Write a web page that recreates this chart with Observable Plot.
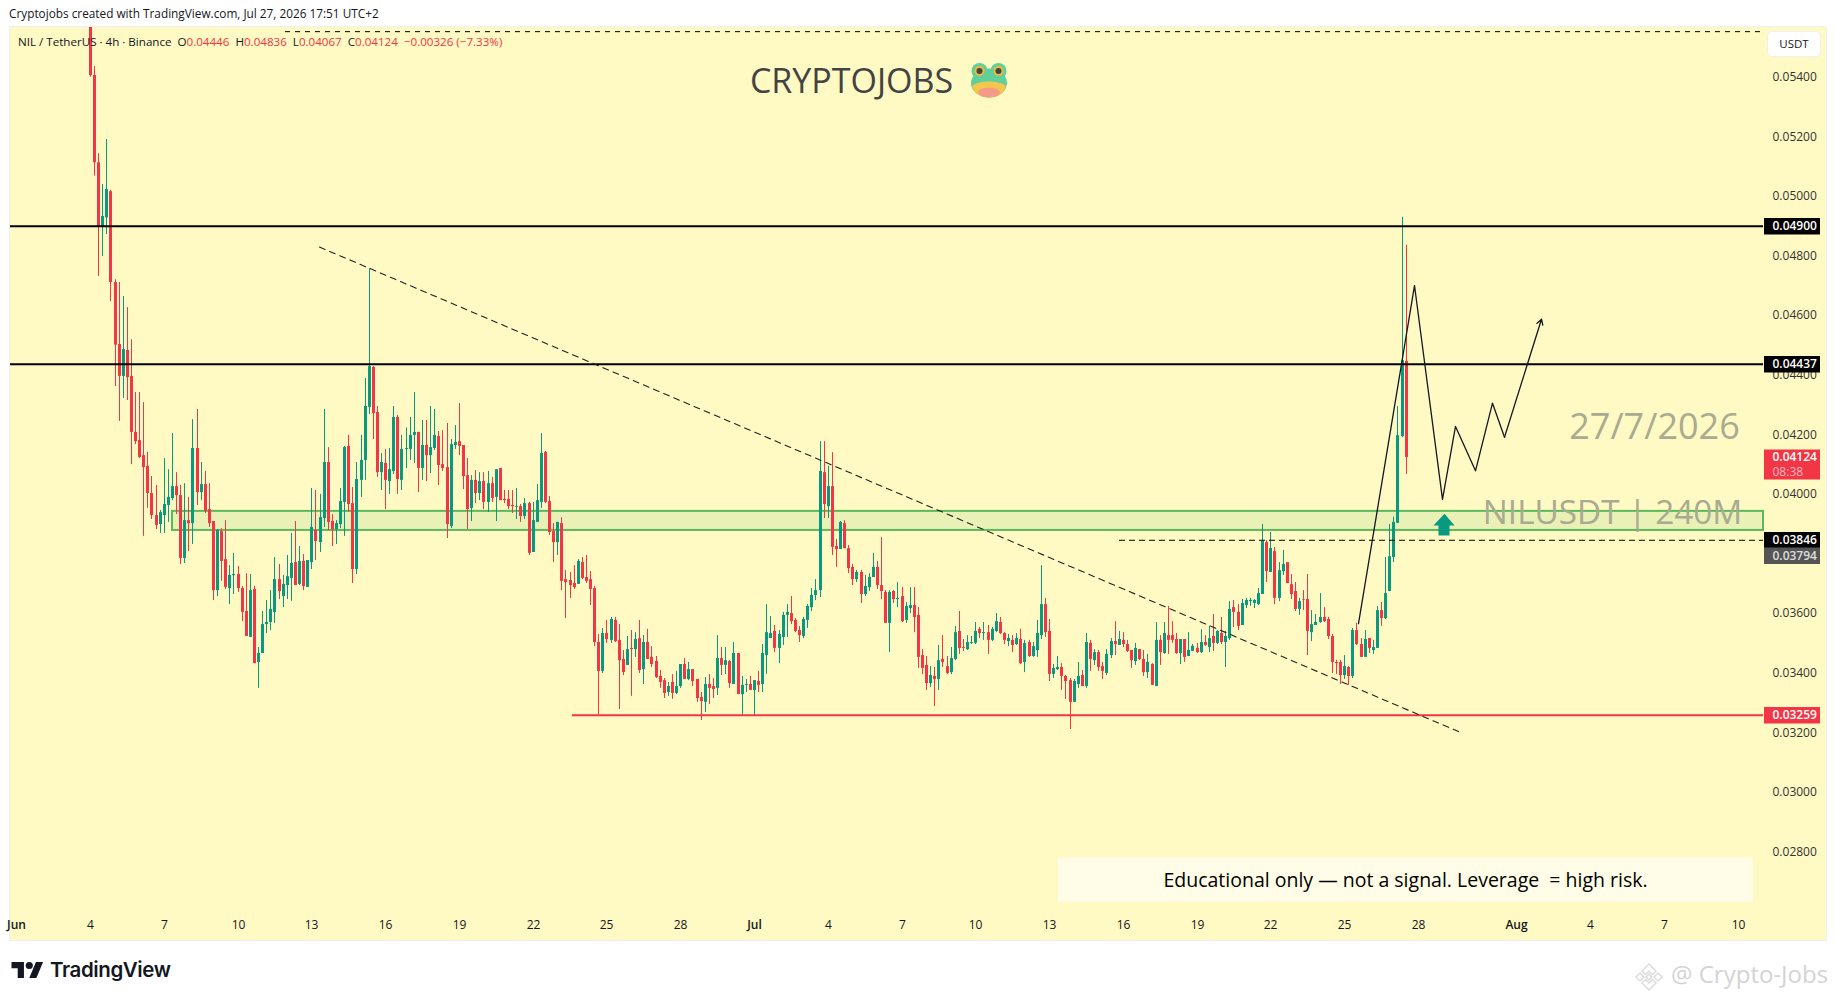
<!DOCTYPE html>
<html>
<head>
<meta charset="utf-8">
<script src="https://cdn.jsdelivr.net/npm/d3@7"></script>
<script src="https://cdn.jsdelivr.net/npm/@observablehq/plot@0.6"></script>
<style>
html,body{margin:0;padding:0;background:#fff;width:1835px;height:1000px;overflow:hidden}
body{position:relative;font-family:"Open Sans",sans-serif;color:#131722}
#pane{position:absolute;left:10px;top:27px;width:1816px;height:913px;background:#fff9c4;box-shadow:0 0 0 1px #eef0f3}
#chart{position:absolute;left:0;top:0}
.t{position:absolute;white-space:pre;line-height:1}
#usdt{position:absolute;left:1767px;top:31px;width:54px;height:26px;background:#fff;border:1px solid #eef0f3;border-radius:5px;box-sizing:border-box;font-size:11.5px;line-height:24px;text-align:center}
.r{color:#f23645}
</style>
</head>
<body>
<div id="pane"></div>
<div id="chart"></div>
<div class="t" style="left:9px;top:8px;font-size:11.8px">Cryptojobs created with TradingView.com, Jul 27, 2026 17:51 UTC+2</div>
<div class="t" style="left:18px;top:36px;font-size:11.6px">NIL / TetherUS · 4h · Binance  O<span class="r">0.04446</span>  H<span class="r">0.04836</span>  L<span class="r">0.04067</span>  C<span class="r">0.04124</span>  <span class="r">−0.00326 (−7.33%)</span></div>
<div id="usdt">USDT</div>
<svg style="position:absolute;left:970px;top:62px" width="38" height="36" viewBox="0 0 38 36">
<ellipse cx="19" cy="21" rx="18" ry="14.5" fill="#5fd09a"/>
<circle cx="9.5" cy="9" r="8" fill="#5fd09a"/><circle cx="28.5" cy="9" r="8" fill="#5fd09a"/>
<circle cx="9.5" cy="9" r="5" fill="#f0b93c"/><circle cx="28.5" cy="9" r="5" fill="#f0b93c"/>
<circle cx="9.5" cy="9" r="3" fill="#444"/><circle cx="28.5" cy="9" r="3" fill="#444"/>
<path d="M2 24C8 18 30 18 36 24C34 32 27 35.500 19 35.500C11 35.500 4 32 2 24Z" fill="#f4c64e"/>
<ellipse cx="19" cy="30.500" rx="11" ry="4.800" fill="#f59a86"/>
</svg>
<svg style="position:absolute;left:11px;top:962px" width="33" height="16" viewBox="0 4 36 18">
<path d="M14 22H7V11H0V4h14v18zM28 22h-8l7.500-18h8L28 22z" fill="#131722"/><circle cx="20" cy="8" r="4" fill="#131722"/>
</svg>
<div class="t" style="left:50px;top:957px;font:600 20.500px Inter,sans-serif;letter-spacing:-.4px">TradingView</div>
<svg style="position:absolute;left:1634px;top:963px" width="30" height="28" viewBox="0 0 30 28" fill="none" stroke="#dcdcdc" stroke-width="1.500">
<path d="M15 1L22 8L18.500 11.500L15 8L11.500 11.500L8 8Z"/><path d="M15 27L22 20L18.500 16.500L15 20L11.500 16.500L8 20Z"/><path d="M2 14L6 10L10 14L6 18Z"/><path d="M28 14L24 10L20 14L24 18Z"/><path d="M15 11L18 14L15 17L12 14Z"/>
</svg>
<div class="t" style="left:1671px;top:962px;font-size:24px;color:#d4d4d4">@ Crypto-Jobs</div>
<script>
// Prices in 1e-5 USDT, one entry per 4h bar starting Jun 4 2026
const opens = [
5900,5406,5113,4897,4928,5016,4711,4503,4396,4483,
4396,4208,4181,4130,4094,4003,3929,3899,3929,3963,
3986,4026,3996,3785,3912,3902,4154,4006,4033,3949,
3909,3677,3875,3781,3684,3727,3731,3684,3607,3520,
3681,3436,3466,3563,3570,3604,3714,3657,3694,3718,
3771,3698,3775,3688,3771,3879,3838,3919,4107,3909,
3882,3899,3973,4161,3969,3748,4047,4114,4292,4426,
4275,4073,4104,4043,4077,4258,4047,4151,4151,4198,
4208,4087,4164,4130,4154,4194,4100,4090,3892,4164,
4177,4164,4063,3953,4047,4003,4043,3973,4036,3990,
4087,3983,3983,3963,3956,3959,3926,3969,3805,3906,
3973,4141,3976,3875,3838,3902,3714,3711,3701,3698,
3771,3721,3714,3684,3503,3406,3533,3510,3577,3510,
3446,3426,3483,3479,3516,3412,3503,3453,3439,3389,
3375,3335,3369,3332,3355,3429,3379,3412,3379,3318,
3302,3362,3355,3349,3449,3426,3439,3362,3466,3328,
3359,3362,3342,3372,3362,3459,3516,3540,3483,3520,
3594,3600,3577,3543,3523,3577,3620,3661,3677,4073,
3959,4026,3825,3815,3902,3818,3755,3714,3738,3664,
3687,3721,3755,3694,3671,3567,3674,3647,3657,3577,
3617,3627,3594,3459,3426,3365,3389,3379,3446,3422,
3402,3446,3540,3486,3479,3500,3500,3547,3533,3536,
3510,3540,3570,3533,3506,3510,3496,3513,3436,3503,
3456,3476,3526,3630,3540,3396,3412,3419,3389,3375,
3302,3362,3392,3355,3500,3442,3469,3422,3399,3459,
3506,3493,3510,3496,3476,3439,3479,3446,3402,3429,
3355,3510,3466,3526,3526,3513,3466,3513,3456,3473,
3483,3469,3503,3486,3523,3500,3533,3503,3516,3620,
3604,3560,3627,3640,3634,3630,3664,3838,3738,3808,
3651,3741,3771,3697,3674,3614,3647,3647,3536,3560,
3570,3587,3580,3523,3436,3436,3392,3419,3389,3543,
3496,3453,3516,3476,3483,3610,3583,3674,3788,3903,
4194,4446];
const closes = [
5406,5113,4897,4933,5023,4711,4501,4396,4486,4392,
4208,4177,4124,4090,4003,3929,3896,3939,3966,3990,
4026,3996,3785,3912,3902,4154,4006,4033,3943,3902,
3677,3879,3775,3688,3728,3731,3684,3604,3523,3677,
3432,3466,3563,3570,3614,3714,3674,3698,3724,3768,
3694,3775,3691,3778,3889,3842,3922,4107,3906,3882,
3902,3976,4157,3966,3748,4050,4114,4295,4429,4271,
4073,4107,4047,4083,4258,4050,4151,4154,4198,4208,
4087,4164,4130,4157,4198,4097,4087,3899,4167,4174,
4161,4060,3949,4047,4003,4043,3973,4036,3986,4083,
3979,3979,3959,3959,3959,3926,3969,3802,3912,3979,
4137,3973,3872,3838,3906,3708,3704,3694,3687,3775,
3718,3708,3681,3503,3406,3533,3513,3580,3506,3442,
3402,3479,3479,3513,3409,3503,3446,3429,3385,3369,
3332,3355,3332,3355,3429,3379,3412,3372,3315,3305,
3362,3349,3345,3449,3426,3442,3365,3466,3328,3359,
3362,3342,3375,3359,3466,3536,3533,3483,3530,3594,
3604,3573,3540,3526,3580,3624,3661,3677,4077,3966,
4026,3822,3815,3906,3818,3751,3714,3738,3664,3691,
3721,3755,3694,3674,3567,3671,3647,3651,3573,3624,
3627,3587,3453,3416,3365,3392,3379,3442,3436,3399,
3449,3536,3483,3483,3503,3503,3540,3533,3536,3510,
3547,3573,3533,3510,3516,3493,3516,3432,3500,3456,
3489,3533,3630,3536,3396,3416,3419,3389,3372,3302,
3372,3389,3355,3503,3446,3469,3419,3406,3463,3506,
3496,3513,3496,3473,3442,3483,3446,3402,3436,3359,
3510,3469,3533,3510,3510,3466,3513,3453,3476,3490,
3469,3503,3493,3516,3500,3540,3503,3523,3614,3604,
3557,3634,3644,3644,3644,3667,3842,3741,3818,3651,
3744,3765,3701,3664,3614,3640,3645,3540,3563,3570,
3587,3573,3523,3436,3432,3392,3422,3389,3543,3496,
3453,3513,3483,3486,3610,3583,3667,3791,3906,4197,
4449,4124];
const highs = [
5950,5436,5143,5040,5191,5020,4720,4711,4664,4627,
4519,4342,4342,4308,4141,4060,4030,3946,4120,4083,
4204,4073,4030,4036,3990,4251,4285,4107,4077,4036,
3909,3882,3885,3912,3761,3802,3758,3691,3734,3731,
3691,3486,3607,3644,3677,3788,3765,3728,3795,3869,
3909,3825,3798,3778,4020,4013,4000,4285,4157,3932,
3912,4020,4161,4198,4023,4107,4198,4389,4757,4429,
4295,4137,4151,4154,4295,4265,4198,4223,4258,4342,
4208,4248,4248,4295,4285,4211,4214,4238,4184,4231,
4305,4164,4120,4063,4080,4073,4073,4077,4057,4083,
4087,4013,4013,4013,4020,3966,3986,3973,3973,4033,
4204,4144,3993,3902,3906,3922,3745,3738,3761,3781,
3788,3795,3741,3691,3530,3550,3577,3587,3587,3563,
3476,3523,3543,3536,3577,3526,3547,3489,3456,3409,
3382,3369,3395,3406,3429,3449,3436,3412,3379,3335,
3385,3395,3382,3526,3486,3486,3442,3503,3466,3389,
3379,3389,3375,3406,3496,3630,3590,3560,3543,3604,
3630,3657,3583,3557,3587,3630,3684,3714,4177,4177,
4094,4140,3849,3909,3912,3828,3765,3745,3745,3728,
3734,3802,3775,3855,3677,3677,3677,3704,3687,3637,
3687,3687,3620,3479,3456,3422,3419,3493,3526,3456,
3486,3557,3607,3513,3526,3523,3570,3553,3570,3560,
3553,3600,3587,3536,3530,3526,3533,3547,3510,3510,
3503,3577,3761,3651,3580,3429,3456,3432,3392,3382,
3379,3436,3409,3533,3510,3479,3476,3436,3479,3516,
3573,3540,3536,3510,3476,3500,3479,3476,3463,3432,
3570,3526,3570,3624,3573,3533,3513,3513,3536,3496,
3500,3546,3526,3557,3597,3543,3587,3540,3640,3644,
3630,3647,3651,3651,3647,3684,3899,3845,3872,3822,
3771,3812,3771,3731,3704,3651,3677,3731,3610,3597,
3667,3620,3587,3530,3443,3443,3459,3422,3550,3567,
3516,3543,3516,3510,3624,3637,3788,3899,3924,4295,
4930,4836];
const lows = [
5400,5068,4731,4798,4872,4647,4362,4245,4322,4315,
4100,4167,4120,3859,3953,3916,3882,3869,3869,3906,
3979,3932,3765,3768,3808,3832,3963,3979,3936,3889,
3644,3657,3708,3681,3630,3664,3671,3573,3523,3520,
3432,3349,3466,3533,3543,3567,3647,3620,3647,3641,
3694,3694,3677,3688,3748,3778,3805,3889,3879,3825,
3832,3885,3859,3939,3701,3731,3990,4047,4268,4184,
4057,4013,3949,4000,4067,4000,4013,4087,4114,4104,
4006,4047,4043,4070,4147,4030,4077,3852,3885,4151,
4130,4016,3882,3909,3969,3979,3949,3939,3973,3909,
3979,3969,3949,3936,3916,3906,3916,3795,3805,3906,
3953,3969,3862,3771,3795,3677,3583,3651,3681,3698,
3714,3701,3627,3489,3259,3399,3500,3500,3503,3278,
3392,3426,3322,3453,3399,3362,3446,3419,3382,3349,
3315,3322,3312,3328,3349,3379,3375,3355,3302,3241,
3268,3295,3315,3325,3392,3395,3349,3362,3328,3257,
3335,3342,3257,3335,3335,3396,3516,3469,3432,3493,
3520,3563,3536,3503,3516,3550,3607,3644,3654,3919,
3919,3795,3755,3815,3818,3734,3694,3704,3634,3657,
3674,3721,3681,3647,3567,3469,3634,3620,3570,3567,
3600,3536,3416,3395,3342,3352,3288,3342,3419,3395,
3395,3442,3463,3473,3476,3496,3496,3516,3510,3463,
3506,3536,3530,3496,3489,3469,3493,3429,3402,3453,
3453,3453,3513,3520,3372,3382,3409,3342,3312,3211,
3302,3349,3355,3349,3406,3426,3406,3379,3392,3449,
3459,3493,3486,3469,3416,3426,3442,3389,3382,3359,
3355,3426,3463,3463,3500,3463,3429,3436,3456,3473,
3466,3466,3490,3469,3473,3496,3496,3419,3510,3553,
3543,3560,3617,3624,3617,3627,3664,3704,3738,3630,
3640,3728,3701,3647,3607,3594,3610,3459,3506,3560,
3567,3570,3513,3399,3396,3362,3379,3359,3382,3493,
3453,3453,3466,3463,3483,3557,3580,3674,3771,3903,
4190,4067];

const RED = "#f23645", GREEN = "#089981", INK = "#131722", FAINT = "#a9ab91";
const FONT = '"Open Sans", sans-serif';
const firstBar = Date.UTC(2026, 5, 4);
const barTime = k => new Date(firstBar + k * 4 * 3600e3);
const price = p => p / 1e5;

const candles = opens.map((o, i) => ({
  t: barTime(i), o: price(o), c: price(closes[i]), h: price(highs[i]), l: price(lows[i]),
  color: closes[i] >= o ? GREEN : RED
}));

// Axis values
const priceTicks = [0.054,0.052,0.05,0.048,0.046,0.044,0.042,0.04,0.036,0.034,0.032,0.03,0.028];
const juneDays = [4,7,10,13,16,19,22,25,28];
const julyDays = [4,7,10,13,16,19,22,25,28];
const augustDays = [4,7,10];
const dayTicks = [
  ...juneDays.map(d => new Date(Date.UTC(2026,5,d))),
  ...julyDays.map(d => new Date(Date.UTC(2026,6,d))),
  ...augustDays.map(d => new Date(Date.UTC(2026,7,d)))
];
const monthTicks = [5,6,7].map(m => new Date(Date.UTC(2026,m,1)));

// Annotation values: bar index and price (1e-5 USDT)
const leftBar = -19.52, rightBar = 408.2, tagStart = 408.5, tagEnd = 422.2;
const trendBars = [55.9, 333.8], trendPrices = [4830, 3204];
const forecastBars = [309.4, 323, 330, 333, 338, 342, 345, 354];
const forecastPrices = [3566, 4701, 3983, 4228, 4079, 4306, 4192, 4588];
const arrowBars = [330.3, 332.86, 331.64, 331.64, 328.96, 328.96, 327.74];
const arrowPrices = [3935, 3896, 3896, 3862, 3862, 3896, 3896];
const zone = {b1: 20, b2: rightBar, top: 3943, bottom: 3879};
const tagPrices = [4900, 4437, 3846, 3794, 3259];
const tagFills = ["#000", "#000", "#000", "#555", RED];
const tagInks = ["#fff", "#fff", "#fff", "#ddd", "#fff"];

const tags = tagPrices.map((p, i) => ({y: price(p), fill: tagFills[i], ink: tagInks[i], label: (p/1e5).toFixed(5)}));
const xy = (bars, prices) => bars.map((b, i) => ({x: barTime(b), y: price(prices[i])}));

const chart = Plot.plot({
  width: 1835, height: 1000,
  marginLeft: 10, marginRight: 72, marginTop: 27, marginBottom: 86,
  style: {background: "transparent", fontFamily: FONT, overflow: "visible"},
  x: {type: "utc", domain: [barTime(leftBar), barTime(rightBar)], round: true},
  y: {domain: [0.0259, 0.05567]},
  marks: [
    // support zone
    Plot.rect([zone], {x1: d => barTime(d.b1), x2: d => barTime(d.b2), y1: d => price(d.bottom), y2: d => price(d.top),
      fill: "#c4e3a0", fillOpacity: 0.35, stroke: "#5cb85c", strokeWidth: 2}),
    // candles
    Plot.ruleX(candles, {x: "t", y1: "l", y2: "h", stroke: "color", strokeWidth: 1, clip: true}),
    Plot.ruleX(candles, {x: "t", y1: "o", y2: "c", stroke: "color", strokeWidth: 3, clip: true}),
    // levels
    Plot.ruleY([0.049, 0.04437], {stroke: "#000", strokeWidth: 2}),
    Plot.ruleY([0.03259], {x1: barTime(117.6), x2: barTime(rightBar), stroke: RED, strokeWidth: 2}),
    Plot.ruleY([0.03846], {x1: barTime(251.1), x2: barTime(rightBar), stroke: "#000", strokeWidth: 1, strokeDasharray: "6,4"}),
    Plot.ruleY([0.05553], {x1: barTime(47.6), x2: barTime(rightBar), stroke: "#000", strokeWidth: 1, strokeDasharray: "5,5"}),
    // trend line
    Plot.line(xy(trendBars, trendPrices), {x: "x", y: "y", stroke: "#222", strokeWidth: 1.1, strokeDasharray: "6,5"}),
    // forecast path
    Plot.line(xy(forecastBars.slice(0, -1), forecastPrices.slice(0, -1)), {x: "x", y: "y", stroke: INK, strokeWidth: 1.3}),
    Plot.arrow([{x1: barTime(forecastBars[6]), y1: price(forecastPrices[6]), x2: barTime(forecastBars[7]), y2: price(forecastPrices[7])}],
      {x1: "x1", y1: "y1", x2: "x2", y2: "y2", stroke: INK, strokeWidth: 1.3, bend: 0, headLength: 7}),
    // up arrow
    Plot.line(xy([...arrowBars, arrowBars[0]], [...arrowPrices, arrowPrices[0]]), {x: "x", y: "y", fill: GREEN, stroke: "none"}),
    // axes
    Plot.axisY(priceTicks, {anchor: "right", tickSize: 0, tickPadding: 9, tickFormat: d3.format(".5f"), label: null, fontSize: 12, fill: "#333"}),
    Plot.axisX(dayTicks, {anchor: "bottom", tickSize: 0, tickPadding: 6, tickFormat: d3.utcFormat("%-d"), label: null, fontSize: 12, fill: INK}),
    Plot.axisX(monthTicks, {anchor: "bottom", tickSize: 0, tickPadding: 6, tickFormat: d3.utcFormat("%b"), label: null, fontSize: 12, fontWeight: 600, fill: INK}),
    // price tags
    Plot.ruleY(tags, {y: "y", x1: barTime(tagStart), x2: barTime(tagEnd), stroke: "fill", strokeWidth: 16.5}),
    Plot.text(tags, {y: "y", text: "label", frameAnchor: "right", dx: 9, textAnchor: "start", fill: "ink", fontSize: 12, fontWeight: 600}),
    Plot.ruleY([price(4124)], {x1: barTime(tagStart), x2: barTime(tagEnd), stroke: RED, strokeWidth: 30, dy: 7}),
    Plot.text(["0.04124"], {y: [price(4124)], frameAnchor: "right", dx: 9, textAnchor: "start", fill: "#fff", fontSize: 12, fontWeight: 600}),
    Plot.text(["08:38"], {y: [price(4124)], frameAnchor: "right", dx: 9, dy: 14.5, textAnchor: "start", fill: "#ffb9bf", fontSize: 12}),
    // notes
    Plot.rect([0], {x1: barTime(236.3), x2: barTime(405.8), y1: price(2630), y2: price(2779), fill: "#fffde7"}),
    Plot.text(["Educational only — not a signal. Leverage  = high risk."], {x: barTime(320.9), y: price(2704), fill: "#000", fontSize: 19.5}),
    Plot.text(["CRYPTOJOBS"], {x: barTime(185.7), y: price(5383), fill: "#434343", fontSize: 34}),
    Plot.text(["27/7/2026"], {x: barTime(381.6), y: price(4225), fill: FAINT, fontSize: 36}),
    Plot.text(["NILUSDT | 240M"], {x: barTime(371.4), y: price(3935), fill: FAINT, fontSize: 33.3})
  ]
});
document.getElementById("chart").append(chart);
</script>
</body>
</html>
